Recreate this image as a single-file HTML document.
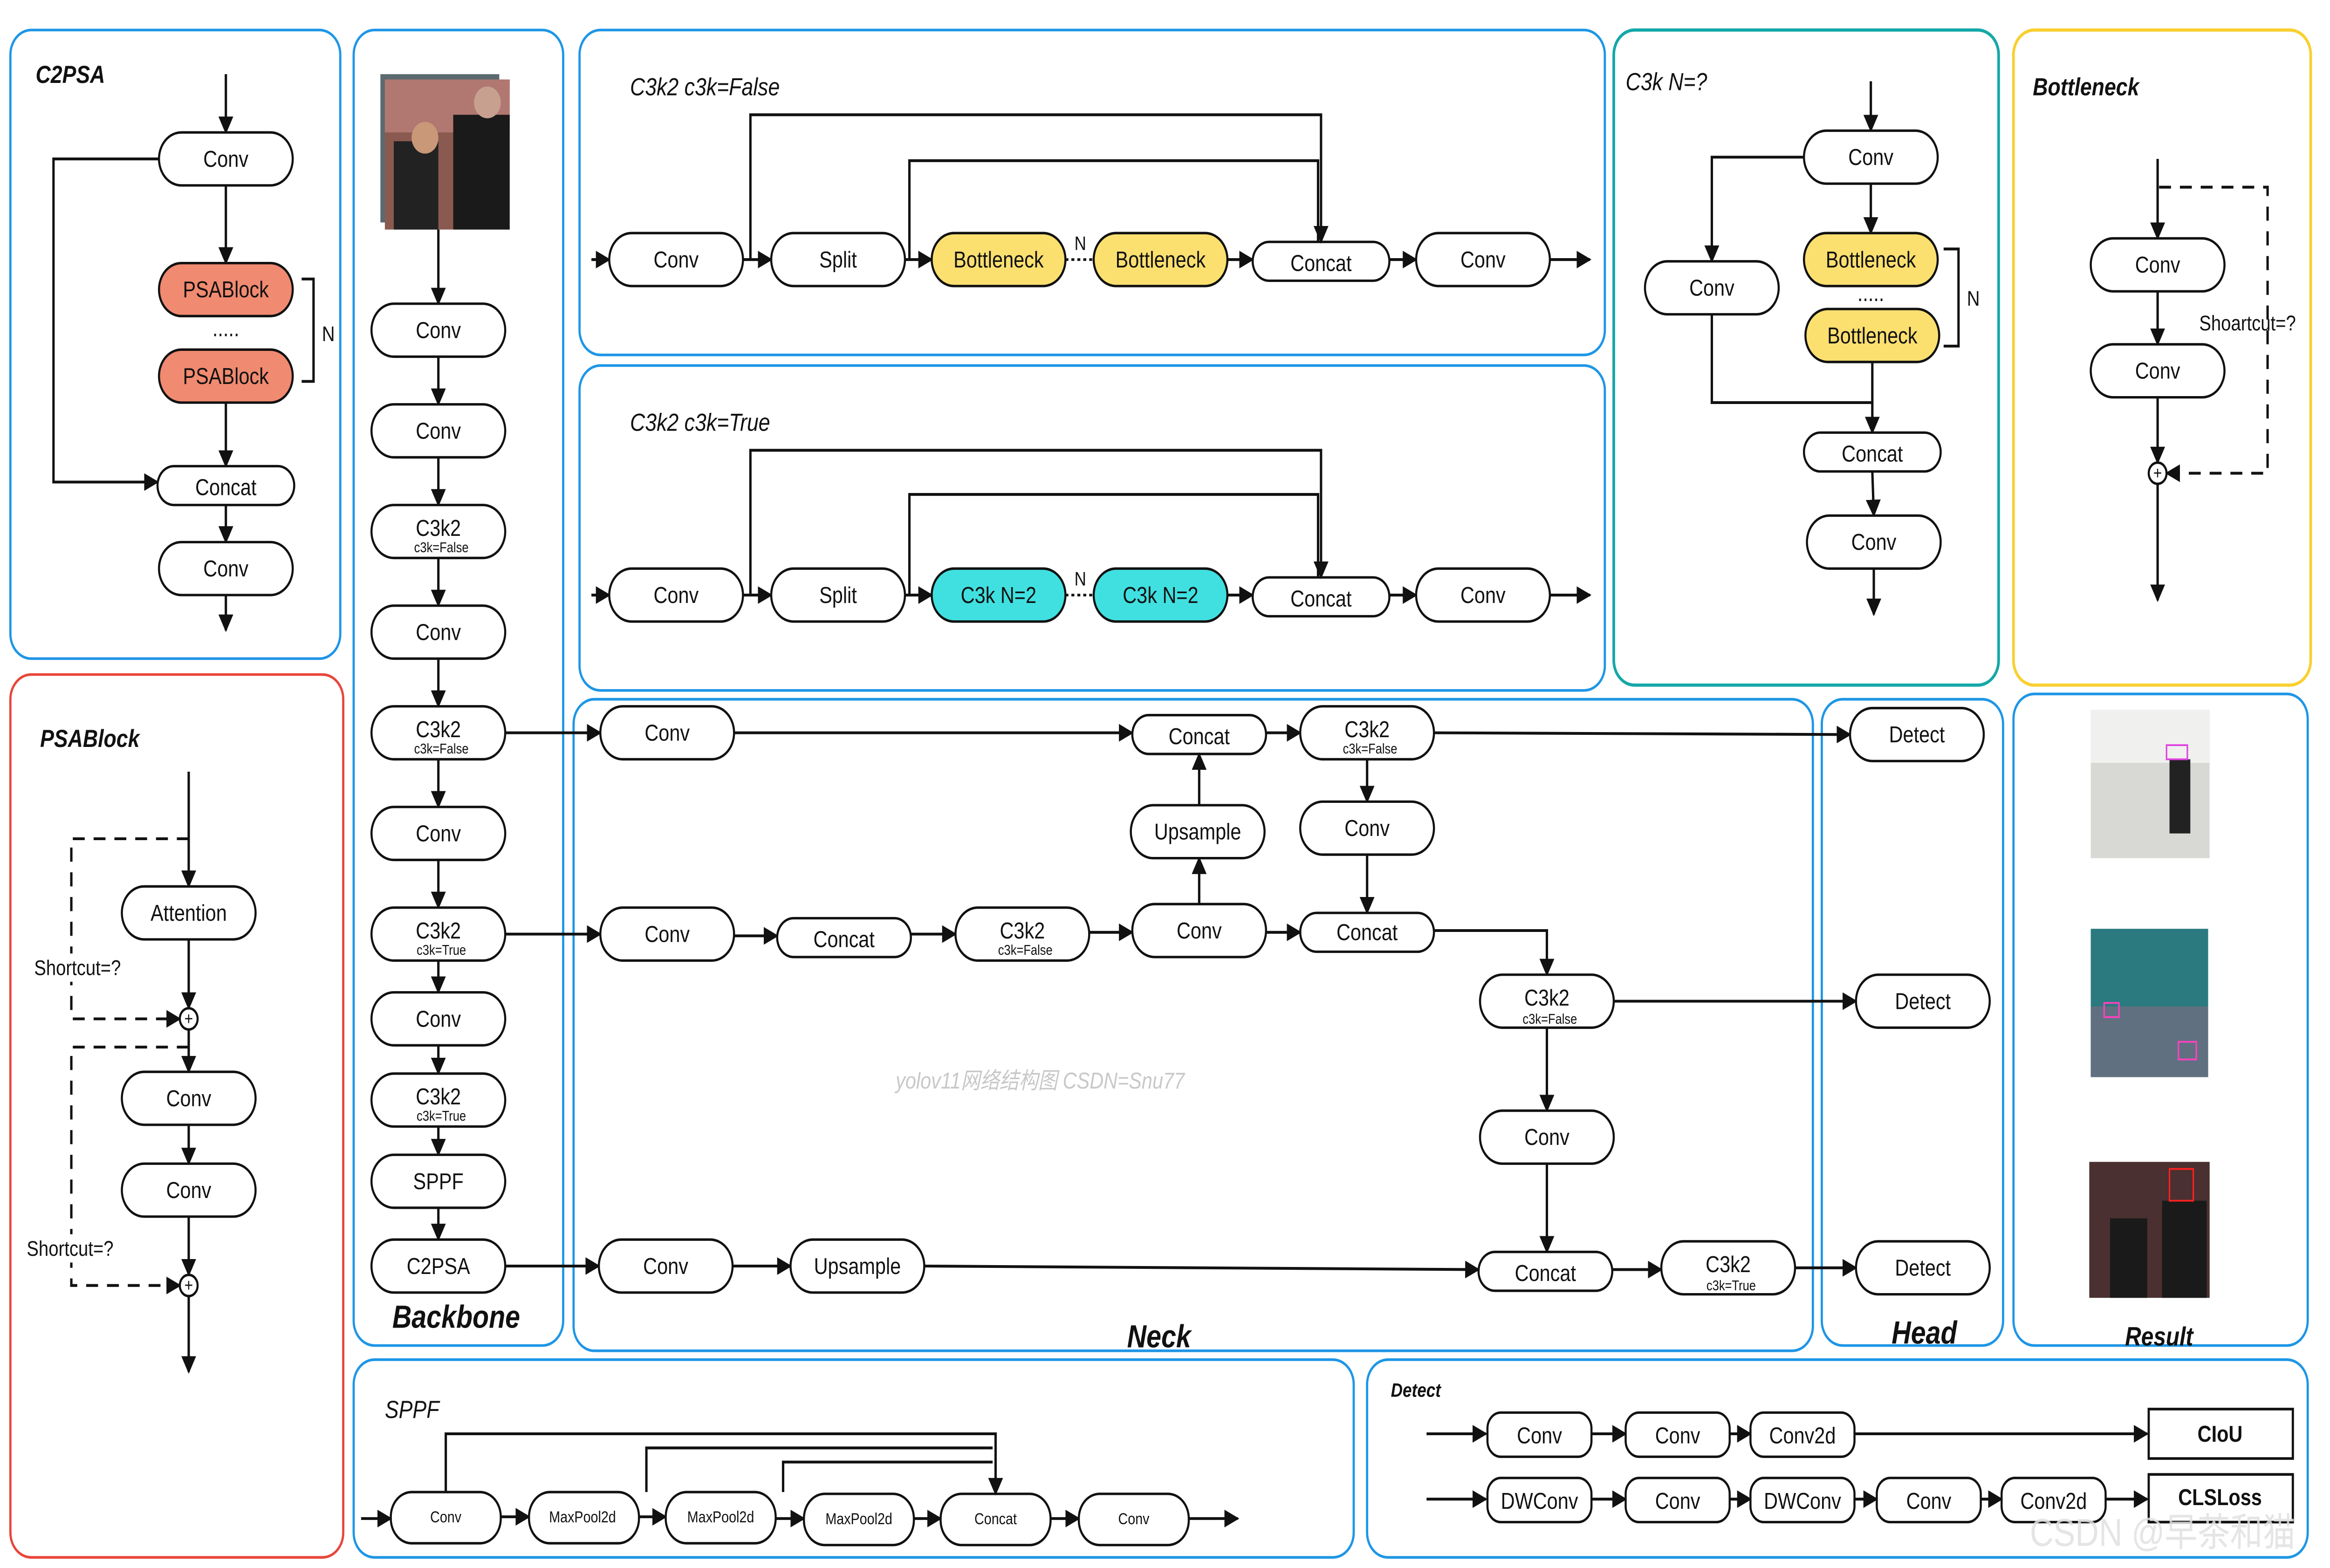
<!DOCTYPE html>
<html><head><meta charset="utf-8"><style>
html,body{margin:0;padding:0;background:#fff;width:100vw;height:100vh;overflow:hidden}
svg{display:block;width:100vw;height:100vh}
text{font-family:"Liberation Sans","Noto Sans CJK SC",sans-serif;fill:#111}
.n{fill:#fff;stroke:#111;stroke-width:1.4}
.l{fill:none;stroke:#111;stroke-width:1.6}
.d{fill:none;stroke:#111;stroke-width:1.6;stroke-dasharray:8 6}
.t{font-size:13px;text-anchor:middle;dominant-baseline:central}
.s{font-size:8px;text-anchor:middle;dominant-baseline:central}
.ti{font-size:14px;font-style:italic;font-weight:bold}
.pb{fill:none;stroke:#1e96e6;stroke-width:1.5}
</style></head><body>
<svg viewBox="0 0 1568 888" preserveAspectRatio="none" xmlns="http://www.w3.org/2000/svg">
<defs>
<marker id="a" markerWidth="10" markerHeight="10" refX="9" refY="5" orient="auto" markerUnits="userSpaceOnUse"><path d="M0,0 L10,5 L0,10 z" fill="#111"/></marker>
</defs>
<rect width="1568" height="888" fill="#fff"/>
<!-- panels -->
<rect x="7" y="17" width="222" height="356" rx="14" class="pb"/>
<rect x="7" y="382" width="224" height="500" rx="14" fill="none" stroke="#e8463a" stroke-width="1.5"/>
<rect x="238" y="17" width="141" height="745" rx="14" class="pb"/>
<rect x="390" y="17" width="690" height="184" rx="14" class="pb"/>
<rect x="390" y="207" width="690" height="184" rx="14" class="pb"/>
<rect x="1086" y="17" width="259" height="371" rx="14" fill="none" stroke="#14a8a8" stroke-width="1.8"/>
<rect x="1355" y="17" width="200" height="371" rx="14" fill="none" stroke="#f8d030" stroke-width="1.8"/>
<rect x="386" y="396" width="834" height="369" rx="14" class="pb"/>
<rect x="1226" y="396" width="122" height="366" rx="14" class="pb"/>
<rect x="1355" y="393" width="198" height="369" rx="14" class="pb"/>
<rect x="238" y="770" width="673" height="112" rx="14" class="pb"/>
<rect x="920" y="770" width="633" height="112" rx="14" class="pb"/>

<!-- C2PSA -->
<text x="24" y="47" class="ti">C2PSA</text>
<line x1="152" y1="42" x2="152" y2="75" class="l" marker-end="url(#a)"/>
<rect x="107" y="75" width="90" height="30" rx="15" class="n"/><text x="152" y="90" class="t">Conv</text>
<line x1="152" y1="105" x2="152" y2="149" class="l" marker-end="url(#a)"/>
<rect x="107" y="149" width="90" height="30" rx="15" fill="#f08a70" stroke="#111" stroke-width="1.4"/><text x="152" y="164" class="t">PSABlock</text>
<text x="152" y="186" class="t">.....</text>
<rect x="107" y="198" width="90" height="30" rx="15" fill="#f08a70" stroke="#111" stroke-width="1.4"/><text x="152" y="213" class="t">PSABlock</text>
<path d="M203,158 H211 V216 H203" class="l"/><text x="221" y="189" class="t" style="font-size:12px">N</text>
<line x1="152" y1="228" x2="152" y2="264" class="l" marker-end="url(#a)"/>
<rect x="106" y="264" width="92" height="22" rx="11" class="n"/><text x="152" y="276" class="t">Concat</text>
<path d="M107,90 H36 V273 H106" class="l" marker-end="url(#a)"/>
<line x1="152" y1="286" x2="152" y2="307" class="l" marker-end="url(#a)"/>
<rect x="107" y="307" width="90" height="30" rx="15" class="n"/><text x="152" y="322" class="t">Conv</text>
<line x1="152" y1="337" x2="152" y2="357" class="l" marker-end="url(#a)"/>

<!-- PSABlock -->
<text x="27" y="423" class="ti">PSABlock</text>
<line x1="127" y1="437" x2="127" y2="502" class="l" marker-end="url(#a)"/>
<rect x="82" y="502" width="90" height="30" rx="15" class="n"/><text x="127" y="517" class="t">Attention</text>
<line x1="127" y1="532" x2="127" y2="571" class="l" marker-end="url(#a)"/>
<path d="M127,475 H48 V577 H121" class="d" marker-end="url(#a)"/>
<rect x="20" y="540" width="70" height="16" fill="#fff"/>
<text x="23" y="548" style="font-size:12px;dominant-baseline:central">Shortcut=?</text>
<circle cx="127" cy="577" r="6" class="n"/><text x="127" y="577" class="t" style="font-size:10px">+</text>
<line x1="127" y1="583" x2="127" y2="607" class="l" marker-end="url(#a)"/>
<rect x="82" y="607" width="90" height="30" rx="15" class="n"/><text x="127" y="622" class="t">Conv</text>
<line x1="127" y1="637" x2="127" y2="659" class="l" marker-end="url(#a)"/>
<rect x="82" y="659" width="90" height="30" rx="15" class="n"/><text x="127" y="674" class="t">Conv</text>
<line x1="127" y1="689" x2="127" y2="722" class="l" marker-end="url(#a)"/>
<path d="M127,593 H48 V728 H121" class="d" marker-end="url(#a)"/>
<rect x="16" y="699" width="70" height="16" fill="#fff"/>
<text x="18" y="707" style="font-size:12px;dominant-baseline:central">Shortcut=?</text>
<circle cx="127" cy="728" r="6" class="n"/><text x="127" y="728" class="t" style="font-size:10px">+</text>
<line x1="127" y1="734" x2="127" y2="777" class="l" marker-end="url(#a)"/>

<!-- Backbone -->
<rect x="256" y="42" width="80" height="84" fill="#5a6a70"/>
<rect x="259" y="45" width="84" height="85" fill="#8a5a50"/>
<rect x="259" y="45" width="84" height="30" fill="#b07870"/>
<rect x="265" y="80" width="30" height="50" fill="#222"/>
<rect x="305" y="65" width="38" height="65" fill="#1a1a1a"/>
<circle cx="286" cy="78" r="9" fill="#c89878"/><circle cx="328" cy="58" r="9" fill="#c8a090"/>
<line x1="295" y1="130" x2="295" y2="172" class="l" marker-end="url(#a)"/>
<rect x="250" y="172" width="90" height="30" rx="15" class="n"/><text x="295" y="187" class="t">Conv</text>
<line x1="295" y1="202" x2="295" y2="229" class="l" marker-end="url(#a)"/>
<rect x="250" y="229" width="90" height="30" rx="15" class="n"/><text x="295" y="244" class="t">Conv</text>
<line x1="295" y1="259" x2="295" y2="286" class="l" marker-end="url(#a)"/>
<rect x="250" y="286" width="90" height="30" rx="15" class="n"/><text x="295" y="299" class="t">C3k2</text><text x="297" y="310" class="s">c3k=False</text>
<line x1="295" y1="316" x2="295" y2="343" class="l" marker-end="url(#a)"/>
<rect x="250" y="343" width="90" height="30" rx="15" class="n"/><text x="295" y="358" class="t">Conv</text>
<line x1="295" y1="373" x2="295" y2="400" class="l" marker-end="url(#a)"/>
<rect x="250" y="400" width="90" height="30" rx="15" class="n"/><text x="295" y="413" class="t">C3k2</text><text x="297" y="424" class="s">c3k=False</text>
<line x1="295" y1="430" x2="295" y2="457" class="l" marker-end="url(#a)"/>
<rect x="250" y="457" width="90" height="30" rx="15" class="n"/><text x="295" y="472" class="t">Conv</text>
<line x1="295" y1="487" x2="295" y2="514" class="l" marker-end="url(#a)"/>
<rect x="250" y="514" width="90" height="30" rx="15" class="n"/><text x="295" y="527" class="t">C3k2</text><text x="297" y="538" class="s">c3k=True</text>
<line x1="295" y1="544" x2="295" y2="562" class="l" marker-end="url(#a)"/>
<rect x="250" y="562" width="90" height="30" rx="15" class="n"/><text x="295" y="577" class="t">Conv</text>
<line x1="295" y1="592" x2="295" y2="608" class="l" marker-end="url(#a)"/>
<rect x="250" y="608" width="90" height="30" rx="15" class="n"/><text x="295" y="621" class="t">C3k2</text><text x="297" y="632" class="s">c3k=True</text>
<line x1="295" y1="638" x2="295" y2="654" class="l" marker-end="url(#a)"/>
<rect x="250" y="654" width="90" height="30" rx="15" class="n"/><text x="295" y="669" class="t">SPPF</text>
<line x1="295" y1="684" x2="295" y2="702" class="l" marker-end="url(#a)"/>
<rect x="250" y="702" width="90" height="30" rx="15" class="n"/><text x="295" y="717" class="t">C2PSA</text>
<text x="264" y="752" style="font-size:18px;font-style:italic;font-weight:bold">Backbone</text>

<!-- C3k2 False -->
<text x="424" y="54" class="ti" style="font-weight:normal">C3k2  c3k=False</text>
<line x1="398" y1="147" x2="410" y2="147" class="l" marker-end="url(#a)"/>
<rect x="410" y="132" width="90" height="30" rx="15" class="n"/><text x="455" y="147" class="t">Conv</text>
<line x1="500" y1="147" x2="519" y2="147" class="l" marker-end="url(#a)"/>
<rect x="519" y="132" width="90" height="30" rx="15" class="n"/><text x="564" y="147" class="t">Split</text>
<line x1="609" y1="147" x2="627" y2="147" class="l" marker-end="url(#a)"/>
<rect x="627" y="132" width="90" height="30" rx="15" fill="#fbe070" stroke="#111" stroke-width="1.4"/><text x="672" y="147" class="t">Bottleneck</text>
<line x1="717" y1="147" x2="736" y2="147" stroke="#111" stroke-width="1.5" stroke-dasharray="2 2"/><text x="727" y="138" class="t" style="font-size:11px">N</text>
<rect x="736" y="132" width="90" height="30" rx="15" fill="#fbe070" stroke="#111" stroke-width="1.4"/><text x="781" y="147" class="t">Bottleneck</text>
<line x1="826" y1="147" x2="843" y2="147" class="l" marker-end="url(#a)"/>
<rect x="843" y="137" width="92" height="22" rx="11" class="n"/><text x="889" y="149" class="t">Concat</text>
<path d="M505,147 V65 H889 V137" class="l" marker-end="url(#a)"/>
<path d="M612,147 V91 H887 V137" class="l"/>
<line x1="935" y1="147" x2="953" y2="147" class="l" marker-end="url(#a)"/>
<rect x="953" y="132" width="90" height="30" rx="15" class="n"/><text x="998" y="147" class="t">Conv</text>
<line x1="1043" y1="147" x2="1070" y2="147" class="l" marker-end="url(#a)"/>

<!-- C3k2 True -->
<text x="424" y="244" class="ti" style="font-weight:normal">C3k2  c3k=True</text>
<line x1="398" y1="337" x2="410" y2="337" class="l" marker-end="url(#a)"/>
<rect x="410" y="322" width="90" height="30" rx="15" class="n"/><text x="455" y="337" class="t">Conv</text>
<line x1="500" y1="337" x2="519" y2="337" class="l" marker-end="url(#a)"/>
<rect x="519" y="322" width="90" height="30" rx="15" class="n"/><text x="564" y="337" class="t">Split</text>
<line x1="609" y1="337" x2="627" y2="337" class="l" marker-end="url(#a)"/>
<rect x="627" y="322" width="90" height="30" rx="15" fill="#40e0e0" stroke="#111" stroke-width="1.4"/><text x="672" y="337" class="t">C3k  N=2</text>
<line x1="717" y1="337" x2="736" y2="337" stroke="#111" stroke-width="1.5" stroke-dasharray="2 2"/><text x="727" y="328" class="t" style="font-size:11px">N</text>
<rect x="736" y="322" width="90" height="30" rx="15" fill="#40e0e0" stroke="#111" stroke-width="1.4"/><text x="781" y="337" class="t">C3k  N=2</text>
<line x1="826" y1="337" x2="843" y2="337" class="l" marker-end="url(#a)"/>
<rect x="843" y="327" width="92" height="22" rx="11" class="n"/><text x="889" y="339" class="t">Concat</text>
<path d="M505,337 V255 H889 V327" class="l" marker-end="url(#a)"/>
<path d="M612,337 V280 H887 V327" class="l"/>
<line x1="935" y1="337" x2="953" y2="337" class="l" marker-end="url(#a)"/>
<rect x="953" y="322" width="90" height="30" rx="15" class="n"/><text x="998" y="337" class="t">Conv</text>
<line x1="1043" y1="337" x2="1070" y2="337" class="l" marker-end="url(#a)"/>

<!-- C3k N=? -->
<text x="1094" y="51" class="ti" style="font-weight:normal">C3k N=?</text>
<line x1="1259" y1="46" x2="1259" y2="74" class="l" marker-end="url(#a)"/>
<rect x="1214" y="74" width="90" height="30" rx="15" class="n"/><text x="1259" y="89" class="t">Conv</text>
<line x1="1259" y1="104" x2="1259" y2="132" class="l" marker-end="url(#a)"/>
<rect x="1214" y="132" width="90" height="30" rx="15" fill="#fbe070" stroke="#111" stroke-width="1.4"/><text x="1259" y="147" class="t">Bottleneck</text>
<text x="1259" y="166" class="t">.....</text>
<rect x="1215" y="175" width="90" height="30" rx="15" fill="#fbe070" stroke="#111" stroke-width="1.4"/><text x="1260" y="190" class="t">Bottleneck</text>
<path d="M1308,141 H1318 V196 H1308" class="l"/><text x="1328" y="169" class="t" style="font-size:12px">N</text>
<path d="M1214,89 H1152 V148" class="l" marker-end="url(#a)"/>
<rect x="1107" y="148" width="90" height="30" rx="15" class="n"/><text x="1152" y="163" class="t">Conv</text>
<path d="M1152,178 V228 H1260" class="l"/>
<line x1="1260" y1="205" x2="1260" y2="245" class="l" marker-end="url(#a)"/>
<rect x="1214" y="245" width="92" height="22" rx="11" class="n"/><text x="1260" y="257" class="t">Concat</text>
<line x1="1260" y1="267" x2="1261" y2="292" class="l" marker-end="url(#a)"/>
<rect x="1216" y="292" width="90" height="30" rx="15" class="n"/><text x="1261" y="307" class="t">Conv</text>
<line x1="1261" y1="322" x2="1261" y2="348" class="l" marker-end="url(#a)"/>

<!-- Bottleneck -->
<text x="1368" y="54" class="ti">Bottleneck</text>
<line x1="1452" y1="90" x2="1452" y2="135" class="l" marker-end="url(#a)"/>
<rect x="1407" y="135" width="90" height="30" rx="15" class="n"/><text x="1452" y="150" class="t">Conv</text>
<line x1="1452" y1="165" x2="1452" y2="195" class="l" marker-end="url(#a)"/>
<rect x="1407" y="195" width="90" height="30" rx="15" class="n"/><text x="1452" y="210" class="t">Conv</text>
<line x1="1452" y1="225" x2="1452" y2="262" class="l" marker-end="url(#a)"/>
<path d="M1453,106 H1526 V268 H1458" class="d" marker-end="url(#a)"/>
<text x="1480" y="183" style="font-size:12px;dominant-baseline:central">Shoartcut=?</text>
<circle cx="1452" cy="268" r="6" class="n"/><text x="1452" y="268" class="t" style="font-size:10px">+</text>
<line x1="1452" y1="274" x2="1452" y2="340" class="l" marker-end="url(#a)"/>

<!-- Neck -->
<line x1="340" y1="415" x2="404" y2="415" class="l" marker-end="url(#a)"/>
<rect x="404" y="400" width="90" height="30" rx="15" class="n"/><text x="449" y="415" class="t">Conv</text>
<line x1="494" y1="415" x2="762" y2="415" class="l" marker-end="url(#a)"/>
<rect x="762" y="405" width="90" height="22" rx="11" class="n"/><text x="807" y="417" class="t">Concat</text>
<line x1="852" y1="415" x2="875" y2="415" class="l" marker-end="url(#a)"/>
<rect x="875" y="400" width="90" height="30" rx="15" class="n"/><text x="920" y="413" class="t">C3k2</text><text x="922" y="424" class="s">c3k=False</text>
<line x1="965" y1="415" x2="1245" y2="416" class="l" marker-end="url(#a)"/>
<line x1="920" y1="430" x2="920" y2="454" class="l" marker-end="url(#a)"/>
<rect x="875" y="454" width="90" height="30" rx="15" class="n"/><text x="920" y="469" class="t">Conv</text>
<line x1="920" y1="484" x2="920" y2="517" class="l" marker-end="url(#a)"/>
<rect x="875" y="517" width="90" height="22" rx="11" class="n"/><text x="920" y="528" class="t">Concat</text>
<path d="M965,527 H1041 V552" class="l" marker-end="url(#a)"/>
<rect x="996" y="552" width="90" height="30" rx="15" class="n"/><text x="1041" y="565" class="t">C3k2</text><text x="1043" y="577" class="s">c3k=False</text>
<line x1="1086" y1="567" x2="1249" y2="567" class="l" marker-end="url(#a)"/>
<line x1="1041" y1="582" x2="1041" y2="629" class="l" marker-end="url(#a)"/>
<rect x="996" y="629" width="90" height="30" rx="15" class="n"/><text x="1041" y="644" class="t">Conv</text>
<line x1="1041" y1="659" x2="1041" y2="709" class="l" marker-end="url(#a)"/>
<rect x="995" y="709" width="90" height="22" rx="11" class="n"/><text x="1040" y="721" class="t">Concat</text>
<line x1="1085" y1="719" x2="1118" y2="719" class="l" marker-end="url(#a)"/>
<rect x="1118" y="703" width="90" height="30" rx="15" class="n"/><text x="1163" y="716" class="t">C3k2</text><text x="1165" y="728" class="s">c3k=True</text>
<line x1="1208" y1="718" x2="1249" y2="718" class="l" marker-end="url(#a)"/>

<line x1="340" y1="529" x2="404" y2="529" class="l" marker-end="url(#a)"/>
<rect x="404" y="514" width="90" height="30" rx="15" class="n"/><text x="449" y="529" class="t">Conv</text>
<line x1="494" y1="530" x2="523" y2="530" class="l" marker-end="url(#a)"/>
<rect x="523" y="520" width="90" height="22" rx="11" class="n"/><text x="568" y="532" class="t">Concat</text>
<line x1="613" y1="529" x2="643" y2="529" class="l" marker-end="url(#a)"/>
<rect x="643" y="514" width="90" height="30" rx="15" class="n"/><text x="688" y="527" class="t">C3k2</text><text x="690" y="538" class="s">c3k=False</text>
<line x1="733" y1="528" x2="762" y2="528" class="l" marker-end="url(#a)"/>
<rect x="762" y="512" width="90" height="30" rx="15" class="n"/><text x="807" y="527" class="t">Conv</text>
<line x1="852" y1="528" x2="875" y2="528" class="l" marker-end="url(#a)"/>
<line x1="807" y1="512" x2="807" y2="486" class="l" marker-end="url(#a)"/>
<rect x="761" y="456" width="90" height="30" rx="15" class="n"/><text x="806" y="471" class="t">Upsample</text>
<line x1="807" y1="456" x2="807" y2="427" class="l" marker-end="url(#a)"/>

<line x1="340" y1="717" x2="403" y2="717" class="l" marker-end="url(#a)"/>
<rect x="403" y="702" width="90" height="30" rx="15" class="n"/><text x="448" y="717" class="t">Conv</text>
<line x1="493" y1="717" x2="532" y2="717" class="l" marker-end="url(#a)"/>
<rect x="532" y="702" width="90" height="30" rx="15" class="n"/><text x="577" y="717" class="t">Upsample</text>
<line x1="622" y1="717" x2="995" y2="719" class="l" marker-end="url(#a)"/>
<text x="700" y="612" class="t" style="font-size:13px;font-style:italic;fill:#c8c8c8">yolov11网络结构图 CSDN=Snu77</text>
<text x="780" y="757" class="t" style="font-size:18px;font-style:italic;font-weight:bold">Neck</text>

<!-- Head -->
<rect x="1245" y="401" width="90" height="30" rx="15" class="n"/><text x="1290" y="416" class="t">Detect</text>
<rect x="1249" y="552" width="90" height="30" rx="15" class="n"/><text x="1294" y="567" class="t">Detect</text>
<rect x="1249" y="703" width="90" height="30" rx="15" class="n"/><text x="1294" y="718" class="t">Detect</text>
<text x="1295" y="755" class="t" style="font-size:18px;font-style:italic;font-weight:bold">Head</text>

<!-- Result -->
<rect x="1407" y="402" width="80" height="84" fill="#d8d8d4"/>
<rect x="1407" y="402" width="80" height="30" fill="#f0f0ee"/>
<rect x="1460" y="430" width="14" height="42" fill="#222"/>
<rect x="1458" y="422" width="14" height="8" fill="none" stroke="#e040e0"/>
<rect x="1407" y="526" width="79" height="84" fill="#2a7a80"/>
<rect x="1407" y="570" width="79" height="40" fill="#607080"/>
<rect x="1416" y="568" width="10" height="8" fill="none" stroke="#ff40c0"/>
<rect x="1466" y="590" width="12" height="10" fill="none" stroke="#ff40c0"/>
<rect x="1406" y="658" width="81" height="77" fill="#4a3030"/>
<rect x="1420" y="690" width="25" height="45" fill="#1a1a1a"/>
<rect x="1455" y="680" width="30" height="55" fill="#1a1a1a"/>
<rect x="1460" y="662" width="16" height="18" fill="none" stroke="#ff2020"/>
<text x="1453" y="757" class="t" style="font-size:15px;font-style:italic;font-weight:bold">Result</text>

<!-- SPPF -->
<text x="259" y="803" class="ti" style="font-weight:normal">SPPF</text>
<line x1="243" y1="860" x2="263" y2="860" class="l" marker-end="url(#a)"/>
<rect x="263" y="845" width="74" height="29" rx="14" class="n"/><text x="300" y="859" class="t" style="font-size:9px">Conv</text>
<line x1="337" y1="859" x2="356" y2="859" class="l" marker-end="url(#a)"/>
<rect x="356" y="845" width="74" height="29" rx="14" class="n"/><text x="392" y="859" class="t" style="font-size:9px">MaxPool2d</text>
<line x1="430" y1="859" x2="448" y2="859" class="l" marker-end="url(#a)"/>
<rect x="448" y="845" width="74" height="29" rx="14" class="n"/><text x="485" y="859" class="t" style="font-size:9px">MaxPool2d</text>
<line x1="522" y1="860" x2="541" y2="860" class="l" marker-end="url(#a)"/>
<rect x="541" y="846" width="74" height="29" rx="14" class="n"/><text x="578" y="860" class="t" style="font-size:9px">MaxPool2d</text>
<line x1="615" y1="860" x2="633" y2="860" class="l" marker-end="url(#a)"/>
<rect x="633" y="846" width="74" height="29" rx="14" class="n"/><text x="670" y="860" class="t" style="font-size:9px">Concat</text>
<path d="M300,845 V812 H670 V846" class="l" marker-end="url(#a)"/>
<path d="M435,845 V820 H668" class="l"/>
<path d="M527,845 V828 H668" class="l"/>
<line x1="707" y1="860" x2="726" y2="860" class="l" marker-end="url(#a)"/>
<rect x="726" y="846" width="74" height="29" rx="14" class="n"/><text x="763" y="860" class="t" style="font-size:9px">Conv</text>
<line x1="800" y1="860" x2="833" y2="860" class="l" marker-end="url(#a)"/>

<!-- Detect -->
<text x="936" y="791" style="font-size:11px;font-style:italic;font-weight:bold">Detect</text>
<line x1="960" y1="812" x2="1000" y2="812" class="l" marker-end="url(#a)"/>
<rect x="1001" y="800" width="70" height="25" rx="9" class="n"/><text x="1036" y="813" class="t">Conv</text>
<line x1="1071" y1="812" x2="1094" y2="812" class="l" marker-end="url(#a)"/>
<rect x="1094" y="800" width="70" height="25" rx="9" class="n"/><text x="1129" y="813" class="t">Conv</text>
<line x1="1164" y1="812" x2="1178" y2="812" class="l" marker-end="url(#a)"/>
<rect x="1178" y="800" width="70" height="25" rx="9" class="n"/><text x="1213" y="813" class="t">Conv2d</text>
<line x1="1248" y1="812" x2="1445" y2="812" class="l" marker-end="url(#a)"/>
<rect x="1446" y="798" width="97" height="28" fill="#fff" stroke="#111" stroke-width="1.5"/><text x="1494" y="812" class="t" style="font-weight:bold">CIoU</text>
<line x1="960" y1="849" x2="1000" y2="849" class="l" marker-end="url(#a)"/>
<rect x="1001" y="837" width="70" height="25" rx="9" class="n"/><text x="1036" y="850" class="t">DWConv</text>
<line x1="1071" y1="849" x2="1094" y2="849" class="l" marker-end="url(#a)"/>
<rect x="1094" y="837" width="70" height="25" rx="9" class="n"/><text x="1129" y="850" class="t">Conv</text>
<line x1="1164" y1="849" x2="1178" y2="849" class="l" marker-end="url(#a)"/>
<rect x="1178" y="837" width="70" height="25" rx="9" class="n"/><text x="1213" y="850" class="t">DWConv</text>
<line x1="1248" y1="849" x2="1263" y2="849" class="l" marker-end="url(#a)"/>
<rect x="1263" y="837" width="70" height="25" rx="9" class="n"/><text x="1298" y="850" class="t">Conv</text>
<line x1="1333" y1="849" x2="1347" y2="849" class="l" marker-end="url(#a)"/>
<rect x="1347" y="837" width="70" height="25" rx="9" class="n"/><text x="1382" y="850" class="t">Conv2d</text>
<line x1="1417" y1="849" x2="1445" y2="849" class="l" marker-end="url(#a)"/>
<rect x="1446" y="835" width="97" height="27" fill="#fff" stroke="#111" stroke-width="1.5"/><text x="1494" y="848" class="t" style="font-weight:bold">CLSLoss</text>
<text x="1366" y="868" style="font-size:22px;fill:#e0e0e0;fill-opacity:0.85;dominant-baseline:central">CSDN @早茶和猫</text>
</svg>
</body></html>
